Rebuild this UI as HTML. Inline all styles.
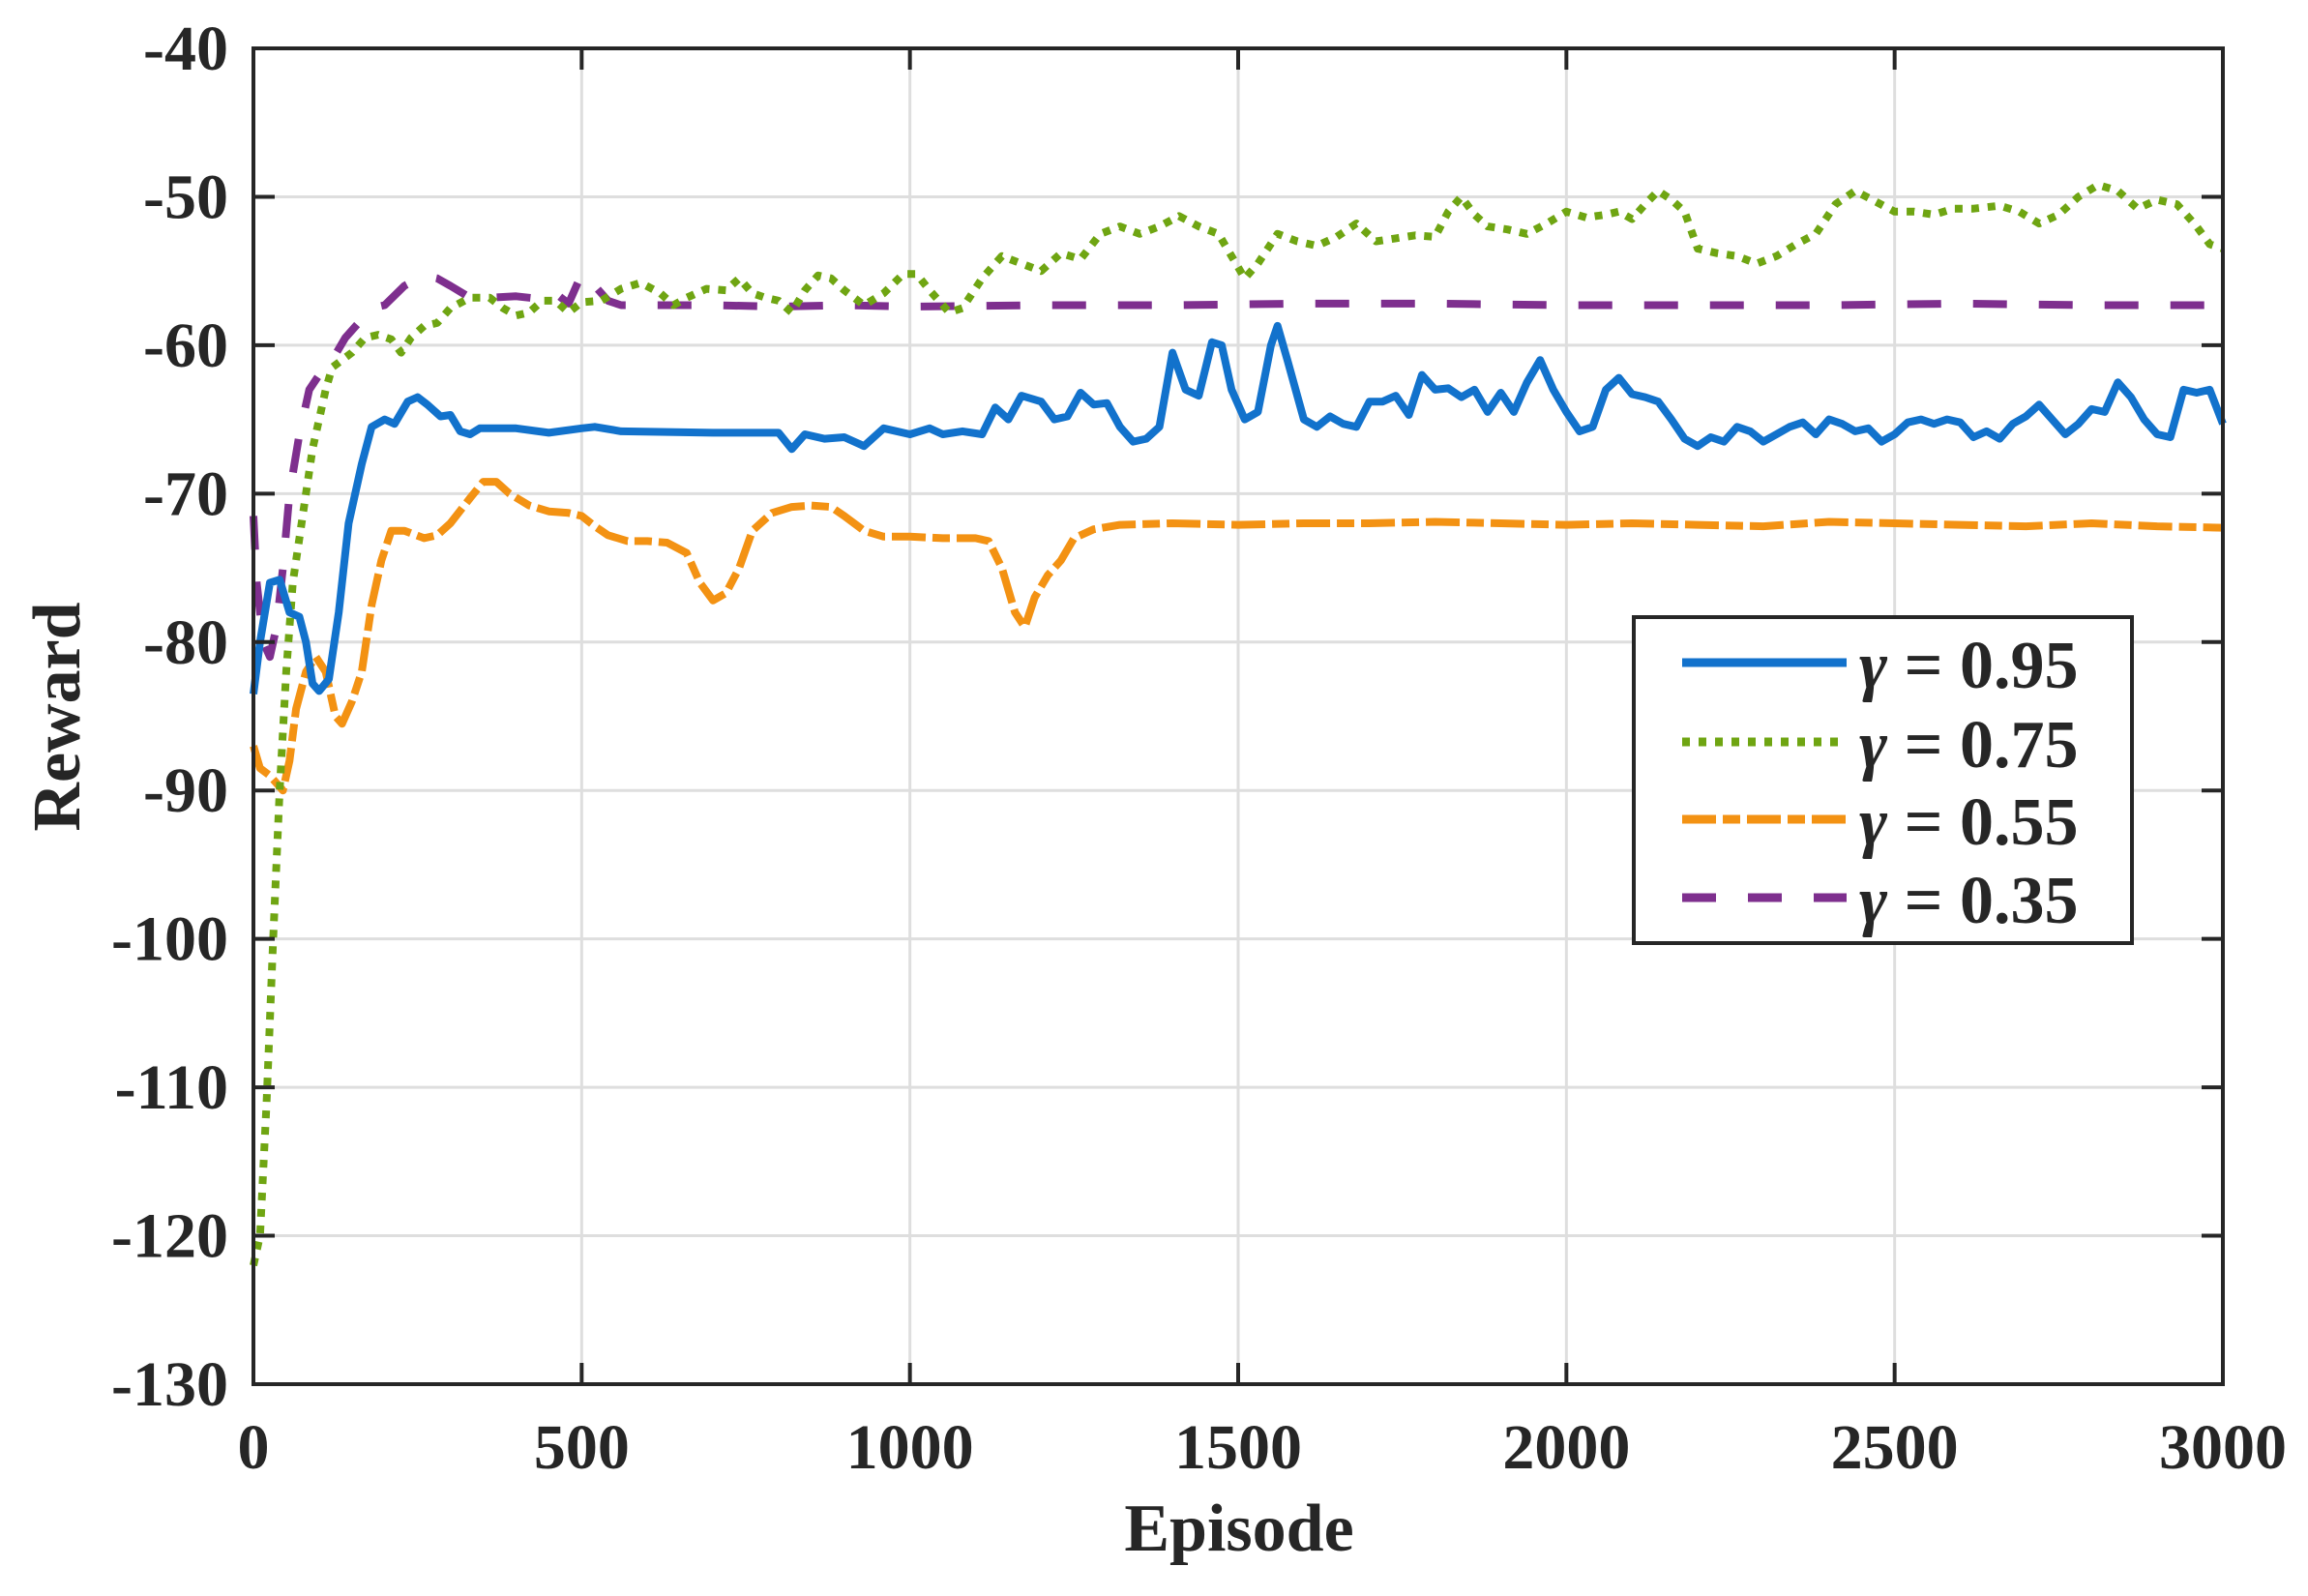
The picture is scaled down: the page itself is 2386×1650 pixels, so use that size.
<!DOCTYPE html>
<html><head><meta charset="utf-8"><style>
html,body{margin:0;padding:0;background:#fff;}
svg{display:block;}
text{font-family:"Liberation Serif","Times New Roman",serif;font-weight:bold;fill:#262626;}
</style></head><body>
<svg id="s" width="2386" height="1650" viewBox="0 0 2386 1650" xmlns="http://www.w3.org/2000/svg">
<rect width="2386" height="1650" fill="#fff"/>
<g id="grid" stroke="#dedede" stroke-width="3"></g>
<g id="series" fill="none" stroke-linejoin="round"></g>
<rect x="262" y="50" width="2036" height="1381" fill="none" stroke="#262626" stroke-width="4"/>
<g id="ticks" stroke="#262626" stroke-width="4"></g>
<g id="labels" font-size="66"></g>
<text x="1281" y="1603" font-size="70" text-anchor="middle">Episode</text>
<text transform="translate(82,741) rotate(-90)" font-size="70" text-anchor="middle">Reward</text>
<rect x="1689" y="638" width="515" height="337" fill="#fff" stroke="#262626" stroke-width="4"/>
<g stroke-width="9">
<line x1="1739" y1="685" x2="1909" y2="685" stroke="#1272CC"/>
<line x1="1739" y1="767" x2="1909" y2="767" stroke="#6FA512" stroke-dasharray="8 9"/>
<line x1="1739" y1="847" x2="1909" y2="847" stroke="#F39213" stroke-dasharray="35 7 18 7"/>
<line x1="1739" y1="928" x2="1909" y2="928" stroke="#7E2F8E" stroke-dasharray="35 33"/>
</g>
<g font-size="70" style="fill:#000">
<text x="1922" y="711"><tspan font-style="italic">γ</tspan> = 0.95</text>
<text x="1922" y="793"><tspan font-style="italic">γ</tspan> = 0.75</text>
<text x="1922" y="873"><tspan font-style="italic">γ</tspan> = 0.55</text>
<text x="1922" y="954"><tspan font-style="italic">γ</tspan> = 0.35</text>
</g>
</svg>
<script>
var NS="http://www.w3.org/2000/svg";
function X(e){return 262+e*2036/3000;}
function Y(r){return 50+(-40-r)*1381/90;}
function el(p,t,a,txt){var e=document.createElementNS(NS,t);for(var k in a)e.setAttribute(k,a[k]);if(txt!==undefined)e.textContent=txt;document.getElementById(p).appendChild(e);return e;}
for(var i=1;i<6;i++){var x=X(i*500);el("grid","line",{x1:x,y1:50,x2:x,y2:1431});}
for(var r=-50;r>=-120;r-=10){var y=Y(r);el("grid","line",{x1:262,y1:y,x2:2298,y2:y});}
for(var i=0;i<=6;i++){var x=X(i*500);el("ticks","line",{x1:x,y1:1431,x2:x,y2:1409});el("ticks","line",{x1:x,y1:50,x2:x,y2:72});
 el("labels","text",{x:x,y:1518,"text-anchor":"middle"},String(i*500));}
for(var r=-40;r>=-130;r-=10){var y=Y(r);el("ticks","line",{x1:262,y1:y,x2:284,y2:y});el("ticks","line",{x1:2298,y1:y,x2:2276,y2:y});
 el("labels","text",{x:236,y:y+22,"text-anchor":"end"},String(r));}
function P(a){var s="";for(var i=0;i<a.length;i+=2){s+=(i?"L":"M")+X(a[i]).toFixed(1)+","+Y(a[i+1]).toFixed(1);}return s;}
var blue=[0,-83.5,10,-80,25,-76,40,-75.8,55,-78,70,-78.3,80,-80,90,-82.8,100,-83.3,115,-82.5,130,-78,145,-72,165,-68,180,-65.5,200,-65,215,-65.3,235,-63.8,250,-63.5,265,-64,285,-64.8,300,-64.7,315,-65.8,330,-66,345,-65.6,400,-65.6,450,-65.9,500,-65.6,520,-65.5,560,-65.8,700,-65.9,800,-65.9,820,-67,840,-66,870,-66.3,900,-66.2,930,-66.8,960,-65.6,1000,-66,1030,-65.6,1050,-66,1080,-65.8,1110,-66,1130,-64.2,1150,-65,1170,-63.4,1200,-63.8,1220,-65,1240,-64.8,1260,-63.2,1280,-64,1300,-63.9,1320,-65.5,1340,-66.5,1360,-66.3,1380,-65.5,1400,-60.5,1420,-63,1440,-63.4,1460,-59.8,1475,-60,1490,-63,1510,-65,1530,-64.5,1550,-60,1560,-58.7,1575,-61,1600,-65,1620,-65.5,1640,-64.8,1660,-65.3,1680,-65.5,1700,-63.8,1720,-63.8,1740,-63.4,1760,-64.7,1780,-62,1800,-63,1820,-62.9,1840,-63.5,1860,-63,1880,-64.5,1900,-63.2,1920,-64.5,1940,-62.5,1960,-61,1980,-63,2000,-64.5,2020,-65.8,2040,-65.5,2060,-63,2080,-62.2,2100,-63.3,2120,-63.5,2140,-63.8,2160,-65,2180,-66.3,2200,-66.8,2220,-66.2,2240,-66.5,2260,-65.5,2280,-65.8,2300,-66.5,2320,-66,2340,-65.5,2360,-65.2,2380,-66,2400,-65,2420,-65.3,2440,-65.8,2460,-65.6,2480,-66.5,2500,-66,2520,-65.2,2540,-65,2560,-65.3,2580,-65,2600,-65.2,2620,-66.2,2640,-65.8,2660,-66.3,2680,-65.3,2700,-64.8,2720,-64,2740,-65,2760,-66,2780,-65.3,2800,-64.3,2820,-64.5,2840,-62.5,2860,-63.5,2880,-65,2900,-66,2920,-66.2,2940,-63,2960,-63.2,2980,-63,3000,-65.3];
var green=[0,-122,10,-120,20,-111,30,-100,40,-90,50,-82,60,-76,70,-73,80,-70,90,-67,100,-65,110,-63,120,-61.5,135,-61,150,-60.5,170,-59.5,190,-59.3,210,-59.6,225,-60.5,240,-59.5,260,-58.7,280,-58.5,300,-57.5,330,-56.8,360,-56.8,380,-57.5,400,-58,420,-57.8,440,-57,460,-57,480,-57.8,500,-57.1,530,-57,560,-56.2,590,-55.8,620,-56.5,640,-57.3,660,-56.8,690,-56.2,720,-56.3,740,-55.5,760,-56.5,780,-56.8,800,-57,820,-57.8,840,-56.3,860,-55.3,880,-55.5,900,-56.3,930,-57.3,960,-56.5,990,-55.2,1010,-55.2,1030,-56.3,1060,-57.8,1080,-57.5,1110,-55.5,1140,-54,1170,-54.5,1200,-55,1230,-53.8,1260,-54.2,1290,-52.5,1320,-52,1350,-52.5,1380,-52,1410,-51.3,1440,-52,1470,-52.5,1490,-54,1510,-55.5,1530,-54.5,1560,-52.5,1590,-53,1620,-53.3,1650,-52.7,1680,-51.8,1710,-53,1740,-52.8,1770,-52.6,1800,-52.7,1820,-51,1840,-50,1860,-51.2,1880,-52,1910,-52.2,1940,-52.5,1970,-51.8,2000,-51,2030,-51.4,2060,-51.2,2080,-51,2100,-51.5,2120,-50.5,2140,-49.6,2160,-50.2,2180,-51,2200,-53.5,2230,-53.8,2260,-54,2290,-54.5,2320,-54,2350,-53.2,2380,-52.5,2410,-50.5,2440,-49.6,2470,-50.3,2500,-51,2530,-51,2560,-51.2,2590,-50.8,2620,-50.8,2660,-50.6,2690,-51,2720,-51.8,2750,-51.2,2780,-50,2810,-49.2,2840,-49.6,2870,-50.8,2900,-50.2,2930,-50.5,2960,-52,2980,-53.2,3000,-53.5];
var orange=[0,-87,10,-88.5,25,-89,45,-90,55,-88,65,-84.5,80,-82,95,-81,110,-82,125,-85,135,-85.5,150,-84,165,-82,180,-77.5,195,-74.5,210,-72.5,230,-72.5,260,-73,280,-72.8,300,-72,330,-70.3,350,-69.2,370,-69.2,390,-70,420,-70.8,450,-71.2,480,-71.3,500,-71.5,520,-72.2,540,-72.8,570,-73.2,600,-73.2,630,-73.3,660,-74,680,-76,700,-77.2,720,-76.7,740,-75,760,-72.5,790,-71.3,820,-70.9,850,-70.8,880,-70.9,900,-71.5,930,-72.5,960,-72.9,1000,-72.9,1050,-73,1100,-73,1120,-73.2,1140,-75,1160,-78,1175,-79,1190,-77,1210,-75.5,1230,-74.5,1250,-73,1280,-72.4,1320,-72.1,1400,-72,1500,-72.1,1600,-72,1700,-72,1800,-71.9,1900,-72,2000,-72.1,2100,-72,2200,-72.1,2300,-72.2,2400,-71.9,2500,-72,2600,-72.1,2700,-72.2,2800,-72,2900,-72.2,3000,-72.3];
var purple=[0,-71.5,5,-76,15,-80,25,-81,35,-79,45,-75,55,-70,70,-66,85,-63,100,-62,120,-61,140,-59.5,160,-58.5,180,-57.5,200,-57.3,230,-56,260,-55.3,280,-55.5,300,-56,330,-56.8,360,-56.8,400,-56.7,440,-56.9,460,-56.5,480,-57.2,500,-55.2,520,-56,540,-57,560,-57.3,600,-57.3,700,-57.3,800,-57.4,900,-57.3,1000,-57.4,1200,-57.3,1400,-57.3,1600,-57.2,1800,-57.2,2000,-57.3,2200,-57.3,2400,-57.3,2600,-57.2,2800,-57.3,3000,-57.3];
el("series","path",{d:P(orange),stroke:"#F39213","stroke-width":8,"stroke-dasharray":"35 7 18 7"});
el("series","path",{d:P(purple),stroke:"#7E2F8E","stroke-width":8,"stroke-dasharray":"35 33"});
el("series","path",{d:P(green),stroke:"#6FA512","stroke-width":8,"stroke-dasharray":"8 9"});
el("series","path",{d:P(blue),stroke:"#1272CC","stroke-width":8});
</script>
</body></html>
